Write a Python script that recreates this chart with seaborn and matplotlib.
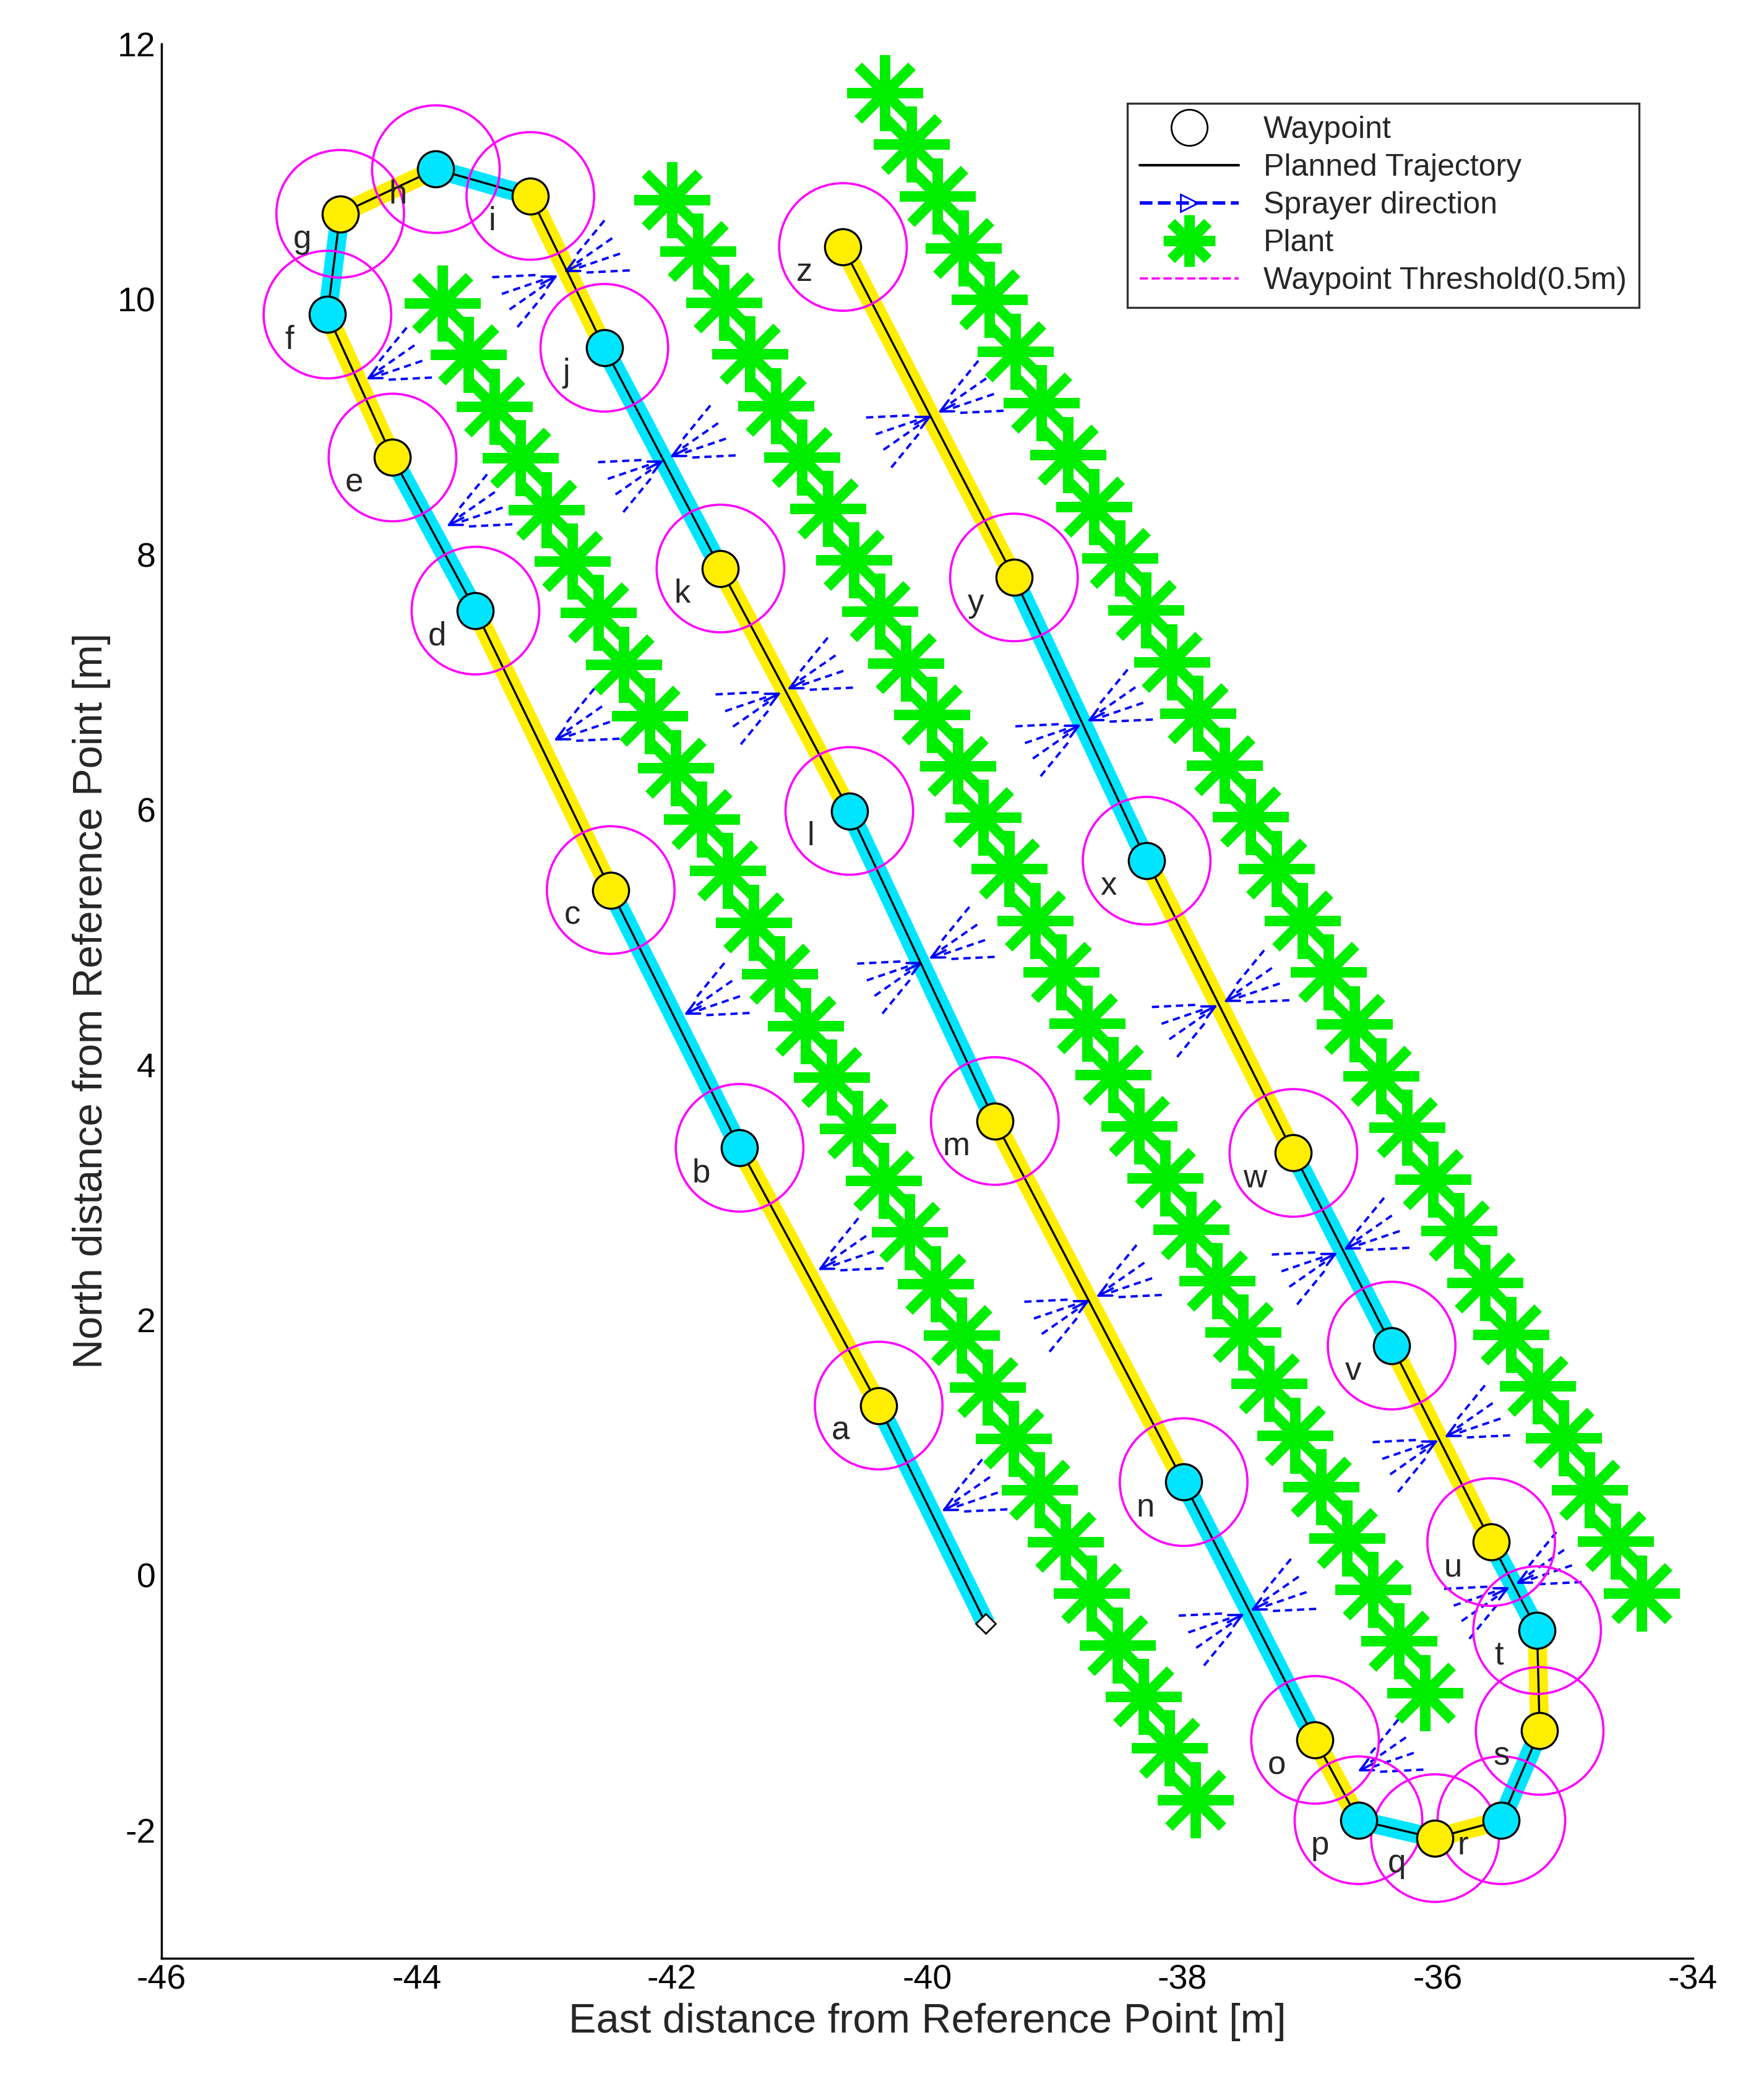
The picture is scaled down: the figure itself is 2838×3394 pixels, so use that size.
import numpy as np
import matplotlib
matplotlib.use("Agg")
import matplotlib.pyplot as plt
import seaborn as sns
from matplotlib.patches import Circle
from matplotlib.lines import Line2D

sns.set_theme(style="white")
plt.rcParams['font.family'] = ['Liberation Sans', 'DejaVu Sans']
plt.rcParams['axes.unicode_minus'] = False

labels = list("abcdefghijklmnopqrstuvwxyz")
wp_x = [-40.38,-41.47,-42.48,-43.54,-44.19,-44.70,-44.60,-43.85,-43.11,-42.53,-41.62,-40.61,-39.47,
        -37.99,-36.96,-36.62,-36.02,-35.50,-35.20,-35.22,-35.58,-36.36,-37.13,-38.28,-39.32,-40.66]
wp_y = [1.33,3.35,5.37,7.56,8.76,9.88,10.67,11.02,10.81,9.62,7.89,5.99,3.56,
        0.73,-1.29,-1.92,-2.06,-1.92,-1.22,-0.43,0.26,1.80,3.31,5.60,7.82,10.41]
wp_fill = ['#ffee00' if i % 2 == 0 else '#00e5ff' for i in range(25)] + ['#ffee00']
start_x, start_y = -39.54, -0.38

plant_rows_start = [(-43.8, 9.97), (-42.0, 10.78), (-40.33, 11.62)]
plant_rows_end = [(-37.9, -1.76), (-36.1, -0.92), (-34.4, -0.14)]
plants_per_row = 30

spray_left_x = [-39.91,-40.88,-41.93,-42.95,-43.79,-44.42,-36.65]
spray_left_y = [0.49,2.38,4.38,6.53,8.21,9.36,-1.55]
spray_both_x = [-42.87,-42.04,-41.12,-40.01,-38.70,-37.49,-39.94,-38.77,-37.70,-36.76,-35.97,-35.41]
spray_both_y = [10.2,8.75,6.93,4.82,2.17,-0.29,9.10,6.68,4.48,2.54,1.07,-0.08]

fig = plt.figure(figsize=(14.19, 16.97), dpi=200)
ax = fig.add_axes([0.092, 0.0676, 0.872, 0.9114])

px = [start_x] + wp_x
py = [start_y] + wp_y
cols = ['#00e5ff', '#ffee00']
for i in range(len(px) - 1):
    ax.plot(px[i:i+2], py[i:i+2], color=cols[i % 2], lw=11, solid_capstyle='butt', zorder=1)
ax.plot(px, py, color='black', lw=1.2, zorder=3)
ax.plot([start_x], [start_y], marker='D', ms=8, mfc='white', mec='black', zorder=4)

for (x0, y0), (x1, y1) in zip(plant_rows_start, plant_rows_end):
    xs = np.linspace(x0, x1, plants_per_row)
    ys = np.linspace(y0, y1, plants_per_row)
    ax.plot(xs, ys, ls='none', marker=(8, 2, 0), ms=44, mew=6, color='#00ee00', zorder=2)

perp = np.array([0.89, 0.45])
def fan(x, y, sgn):
    base = np.arctan2(perp[1] * sgn, perp[0] * sgn)
    for d, r0, r1 in zip(np.radians([-24, -8, 8, 24]), [0.2, 0.15, 0.15, 0.2], [0.55, 0.5, 0.5, 0.55]):
        a = base + d
        ax.plot([x + r0*np.cos(a), x + r1*np.cos(a)], [y + r0*np.sin(a), y + r1*np.sin(a)],
                color='blue', ls=(0, (3, 2)), lw=1.4, zorder=2.5)
    ax.annotate('', xy=(x, y), xytext=(x + 0.2*np.cos(base), y + 0.2*np.sin(base)),
                arrowprops=dict(arrowstyle='->', color='blue', lw=1.4, mutation_scale=18), zorder=2.5)
for x, y in zip(spray_left_x, spray_left_y):
    fan(x, y, 1)
for x, y in zip(spray_both_x, spray_both_y):
    fan(x, y, 1)
    fan(x, y, -1)

for x, y, l, c in zip(wp_x, wp_y, labels, wp_fill):
    ax.add_patch(Circle((x, y), 0.5, fill=False, ec='magenta', lw=1.3, zorder=3))
    ax.plot([x], [y], marker='o', ms=21, mfc=c, mec='black', mew=1.2, zorder=5)
    ax.text(x - 0.3, y - 0.2, l, fontsize=19, ha='center', va='center', zorder=6)

ax.set_xlim(-46, -34)
ax.set_ylim(-3, 12)
ax.set_xticks(range(-46, -33, 2))
ax.set_yticks(range(-2, 13, 2))
ax.tick_params(labelsize=20, direction='in', length=8, top=False, right=False, colors='black')
for s in ['top', 'right']:
    ax.spines[s].set_visible(False)
for s in ['left', 'bottom']:
    ax.spines[s].set_color('black')
ax.set_xlabel('East distance from Reference Point [m]', fontsize=24)
ax.set_ylabel('North distance from Reference Point [m]', fontsize=24)

handles = [
    Line2D([], [], ls='none', marker='o', ms=21, mfc='white', mec='black'),
    Line2D([], [], color='black', lw=1.5),
    Line2D([], [], color='blue', ls='--', lw=2, marker='>', markevery=[1], ms=10, mfc='none'),
    Line2D([], [], ls='none', marker=(8, 2, 0), ms=30, mew=6, color='#00ee00'),
    Line2D([], [], color='magenta', ls='--', lw=1.3),
]
leg = ax.legend(handles, ['Waypoint', 'Planned Trajectory', 'Sprayer direction', 'Plant',
                          'Waypoint Threshold(0.5m)'],
                loc='upper right', bbox_to_anchor=(0.975, 0.977), fontsize=18, frameon=True,
                fancybox=False, edgecolor='black', handlelength=3.2, labelspacing=0.3)
leg.get_frame().set_linewidth(1.2)
fig.savefig('out.png', dpi=200)
